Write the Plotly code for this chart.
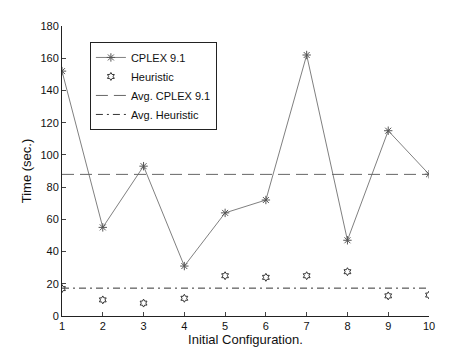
import plotly.graph_objects as go

configs = [1, 2, 3, 4, 5, 6, 7, 8, 9, 10]
cplex = [152, 55, 93, 31, 64, 72, 162, 47, 115, 88]
heuristic = [17, 10, 8, 11, 25, 24, 25, 27.5, 12.5, 13]
avg_cplex = sum(cplex) / len(cplex)
avg_heur = sum(heuristic) / len(heuristic)
y_ticks = [0, 20, 40, 60, 80, 100, 120, 140, 160, 180]

gray = "#808080"
fig = go.Figure()
fig.add_trace(go.Scatter(x=configs, y=cplex, mode="lines+markers", name="CPLEX 9.1",
                         line=dict(color=gray, width=1),
                         marker=dict(symbol="asterisk-open", size=7, color="#555",
                                     line=dict(color="#555", width=1))))
fig.add_trace(go.Scatter(x=configs, y=heuristic, mode="markers", name="Heuristic",
                         marker=dict(symbol="hexagram-open", size=6, color="#333",
                                     line=dict(color="#333", width=1))))
fig.add_trace(go.Scatter(x=[configs[0], configs[-1]], y=[avg_cplex, avg_cplex], mode="lines",
                         name="Avg. CPLEX 9.1",
                         line=dict(color="#666", width=1, dash="12px,6px")))
fig.add_trace(go.Scatter(x=[configs[0], configs[-1]], y=[avg_heur, avg_heur], mode="lines",
                         name="Avg. Heuristic",
                         line=dict(color="#333", width=1, dash="7px,4px,2px,4px")))

fig.update_layout(
    width=474, height=355,
    margin=dict(l=54, r=53, t=18, b=47, autoexpand=False),
    paper_bgcolor="white", plot_bgcolor="white",
    font=dict(family="Liberation Sans, Arial", size=11, color="#111"),
    showlegend=True,
    legend=dict(x=0.076, y=0.945, xanchor="left", yanchor="top",
                bgcolor="white", bordercolor="#222", borderwidth=1,
                font=dict(size=11), itemwidth=30, tracegroupgap=0),
    xaxis=dict(range=[1, 10], tickvals=configs, ticks="inside", ticklen=4,
               showline=True, linecolor="#222", linewidth=1, showgrid=False,
               zeroline=False, automargin=False,
               title=dict(text="Initial Configuration.", standoff=2)),
    yaxis=dict(range=[0, 180], tickvals=y_ticks, ticks="inside", ticklen=4,
               showline=True, linecolor="#222", linewidth=1, showgrid=False,
               zeroline=False, automargin=False,
               title=dict(text="Time (sec.)", standoff=5)),
)
fig.write_html("out.html")
